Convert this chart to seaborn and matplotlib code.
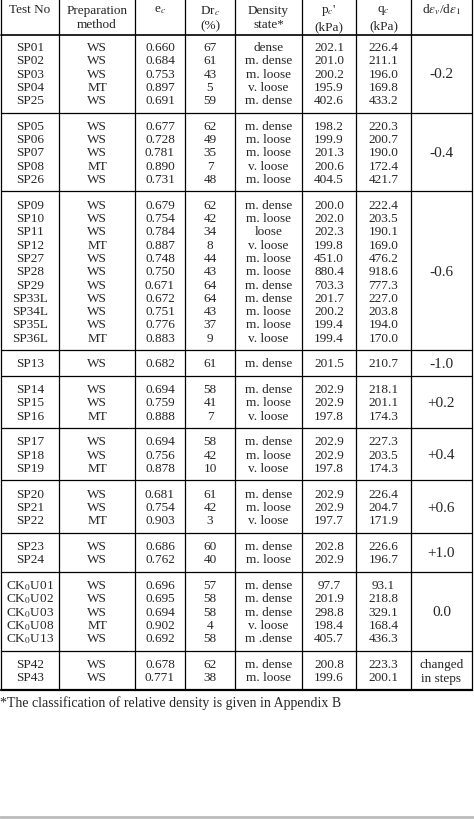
import matplotlib.pyplot as plt
import seaborn as sns

sns.set_style('white')
plt.rcParams['font.family'] = ['Liberation Serif', 'DejaVu Serif']
plt.rcParams['mathtext.fontset'] = 'stix'

headers = ['Test No', 'Preparation\nmethod', 'e$_c$', 'Dr$_c$\n(%)', 'Density\nstate*',
           "p$_c$'\n(kPa)", 'q$_c$\n(kPa)', r'd$\varepsilon_v$/d$\varepsilon_1$']

groups = [
    [['SP01', 'WS', '0.660', '67', 'dense', '202.1', '226.4'],
     ['SP02', 'WS', '0.684', '61', 'm. dense', '201.0', '211.1'],
     ['SP03', 'WS', '0.753', '43', 'm. loose', '200.2', '196.0'],
     ['SP04', 'MT', '0.897', '5', 'v. loose', '195.9', '169.8'],
     ['SP25', 'WS', '0.691', '59', 'm. dense', '402.6', '433.2']],
    [['SP05', 'WS', '0.677', '62', 'm. dense', '198.2', '220.3'],
     ['SP06', 'WS', '0.728', '49', 'm. loose', '199.9', '200.7'],
     ['SP07', 'WS', '0.781', '35', 'm. loose', '201.3', '190.0'],
     ['SP08', 'MT', '0.890', '7', 'v. loose', '200.6', '172.4'],
     ['SP26', 'WS', '0.731', '48', 'm. loose', '404.5', '421.7']],
    [['SP09', 'WS', '0.679', '62', 'm. dense', '200.0', '222.4'],
     ['SP10', 'WS', '0.754', '42', 'm. loose', '202.0', '203.5'],
     ['SP11', 'WS', '0.784', '34', 'loose', '202.3', '190.1'],
     ['SP12', 'MT', '0.887', '8', 'v. loose', '199.8', '169.0'],
     ['SP27', 'WS', '0.748', '44', 'm. loose', '451.0', '476.2'],
     ['SP28', 'WS', '0.750', '43', 'm. loose', '880.4', '918.6'],
     ['SP29', 'WS', '0.671', '64', 'm. dense', '703.3', '777.3'],
     ['SP33L', 'WS', '0.672', '64', 'm. dense', '201.7', '227.0'],
     ['SP34L', 'WS', '0.751', '43', 'm. loose', '200.2', '203.8'],
     ['SP35L', 'WS', '0.776', '37', 'm. loose', '199.4', '194.0'],
     ['SP36L', 'MT', '0.883', '9', 'v. loose', '199.4', '170.0']],
    [['SP13', 'WS', '0.682', '61', 'm. dense', '201.5', '210.7']],
    [['SP14', 'WS', '0.694', '58', 'm. dense', '202.9', '218.1'],
     ['SP15', 'WS', '0.759', '41', 'm. loose', '202.9', '201.1'],
     ['SP16', 'MT', '0.888', '7', 'v. loose', '197.8', '174.3']],
    [['SP17', 'WS', '0.694', '58', 'm. dense', '202.9', '227.3'],
     ['SP18', 'WS', '0.756', '42', 'm. loose', '202.9', '203.5'],
     ['SP19', 'MT', '0.878', '10', 'v. loose', '197.8', '174.3']],
    [['SP20', 'WS', '0.681', '61', 'm. dense', '202.9', '226.4'],
     ['SP21', 'WS', '0.754', '42', 'm. loose', '202.9', '204.7'],
     ['SP22', 'MT', '0.903', '3', 'v. loose', '197.7', '171.9']],
    [['SP23', 'WS', '0.686', '60', 'm. dense', '202.8', '226.6'],
     ['SP24', 'WS', '0.762', '40', 'm. loose', '202.9', '196.7']],
    [['CK$_0$U01', 'WS', '0.696', '57', 'm. dense', '97.7', '93.1'],
     ['CK$_0$U02', 'WS', '0.695', '58', 'm. dense', '201.9', '218.8'],
     ['CK$_0$U03', 'WS', '0.694', '58', 'm. dense', '298.8', '329.1'],
     ['CK$_0$U08', 'MT', '0.902', '4', 'v. loose', '198.4', '168.4'],
     ['CK$_0$U13', 'WS', '0.692', '58', 'm .dense', '405.7', '436.3']],
    [['SP42', 'WS', '0.678', '62', 'm. dense', '200.8', '223.3'],
     ['SP43', 'WS', '0.771', '38', 'm. loose', '199.6', '200.1']],
]
ratios = ['-0.2', '-0.4', '-0.6', '-1.0', '+0.2', '+0.4', '+0.6', '+1.0', '0.0', 'changed\nin steps']
footnote = '*The classification of relative density is given in Appendix B'

col_edges = [1, 59, 135, 185, 235, 302, 356, 411, 472]
row_h, gap, y0 = 13.3, 12.4, 48
fs = 9.5

fig = plt.figure(figsize=(4.74, 8.2), dpi=100)
ax = fig.add_axes([0, 0, 1, 1])
ax.set_xlim(0, 474)
ax.set_ylim(820, 0)
ax.axis('off')

centers = [(a + b) / 2 for a, b in zip(col_edges[:-1], col_edges[1:])]
for c, h in zip(centers, headers):
    y = 18 if '\n' in h else 10
    ax.text(c, y, h, ha='center', va='center', fontsize=fs, linespacing=1.3)
ax.plot([col_edges[0], col_edges[-1]], [36, 36], color='black', lw=1.2)

i = 0
for g, (rows, r) in enumerate(zip(groups, ratios)):
    ys = []
    for row in rows:
        y = y0 + row_h * i + gap * g
        ys.append(y)
        for c, v in zip(centers, row):
            ax.text(c, y, v, ha='center', va='center', fontsize=fs)
        i += 1
    ax.text(centers[-1], sum(ys) / len(ys), r, ha='center', va='center',
            fontsize=fs + 1.5 if '\n' not in r else fs, linespacing=1.2)
    line_y = ys[-1] + (row_h + gap) / 2 - 0.5
    ax.plot([col_edges[0], col_edges[-1]], [line_y, line_y], color='black',
            lw=1.6 if g == len(groups) - 1 else 0.9)
bottom = line_y

for x in col_edges:
    ax.plot([x, x], [0, bottom], color='black', lw=0.9)

ax.text(0, bottom + 12, footnote, ha='left', va='center', fontsize=fs + 0.5)
ax.plot([0, 474], [818, 818], color='#bbbbbb', lw=2)

fig.savefig('out.png', dpi=100)
